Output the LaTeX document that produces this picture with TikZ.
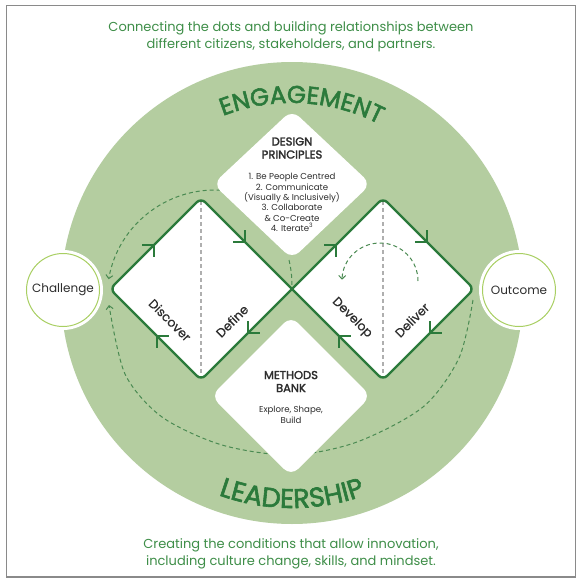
\documentclass[tikz,border=0pt]{standalone}
\usepackage{fontspec}
\setmainfont{Poppins}
\newfontfamily\pmedium{Poppins}[FakeBold=0.6]
\newfontfamily\psemi{Poppins}[FakeBold=2.2]
\newfontfamily\pcurve{Poppins}[FakeBold=2.2,LetterSpace=7]
\usetikzlibrary{arrows.meta,decorations.markings,decorations.text}
\definecolor{lgreen}{HTML}{B4CDA0}
\definecolor{dgreen}{HTML}{2B7A3B}
\definecolor{tgreen}{HTML}{3E8E48}
\definecolor{dashgreen}{HTML}{4A8A52}
\definecolor{lime}{HTML}{A8CF62}
\definecolor{ink}{HTML}{2D2D2D}
\definecolor{framegray}{HTML}{8A8A8A}
\definecolor{dashgray}{HTML}{AFAFAF}
\begin{document}
\begin{tikzpicture}[x=1pt,y=1pt,
  outline/.style={draw=dgreen, line width=2.4pt, line join=round, rounded corners=6pt},
  midline/.style={draw=dashgray, line width=1.2pt, dash pattern=on 4pt off 3pt},
  loopdash/.style={draw=dashgreen, line width=1pt, dash pattern=on 4pt off 3pt},
  tiparrow/.style={-{Straight Barb[length=3.5pt,width=7pt,line width=1pt]}},
  chevron/.style={decoration={markings, mark=at position 0.5 with {\arrow{Straight Barb[length=8.5pt,width=17pt,line width=2.1pt,color=dgreen]}}}, postaction={decorate}},
  caption/.style={text=tgreen, font=\fontsize{13}{17}\selectfont, align=center},
  dtitle/.style={text=ink, font=\psemi\fontsize{11.5}{13}\selectfont, align=center},
  ditems/.style={text=ink, font=\fontsize{8.6}{10.3}\selectfont, align=center},
  phase/.style={text=ink, font=\pmedium\fontsize{12.5}{14}\selectfont},
  endcirc/.style={circle, draw=lime, line width=1pt, fill=white, minimum size=73pt, inner sep=0pt, text=ink, font=\fontsize{12}{14}\selectfont},
  wdiamond/.style={fill=white, rounded corners=10pt}
]
\useasboundingbox (0,0) rectangle (582,-581);
\fill[white] (0,0) rectangle (582,-581);
% frame
\draw[framegray, line width=1.5pt] (6.5,-5.5) rectangle (575.5,-577);
% big circle
\coordinate (C) at (292,-293);
\fill[lgreen] (C) circle (231);
% captions
\node[caption] (topcap) at (291,-37) {Connecting the dots and building relationships between\\different citizens, stakeholders, and partners.};
\node[caption] (botcap) at (291,-553.5) {Creating the conditions that allow innovation,\\including culture change, skills, and mindset.};
% curved words
\path[decorate, decoration={text along path, text={|\pcurve\fontsize{24.5}{24.5}\selectfont|ENGAGEMENT}, text align=center, text color=dgreen}]
  (C) ++(128:190) arc[start angle=128, end angle=46, radius=190];
\path[decorate, decoration={text along path, text={|\pcurve\fontsize{27}{27}\selectfont|LEADERSHIP}, text align=center, text color=dgreen}]
  (C) ++(226:215) arc[start angle=226, end angle=314, radius=215];
% outer dashed loops
\draw[loopdash, tiparrow] (215,-298) ++(87:108) arc[start angle=87, end angle=170, radius=108];
\draw[loopdash, tiparrow] plot[smooth] coordinates {(473,-300) (459,-358) (423,-407) (357,-442) (291,-455) (222,-445) (162,-417) (125,-374) (109,-305)};
\draw[loopdash] (289,-260) to[bend left=6] (292,-286);
% end circles
\fill[white] (63,-290) circle (40);
\fill[white] (519,-290) circle (40);
\node[endcirc] (challenge) at (63,-290) {Challenge};
\node[endcirc] (outcome) at (519,-290) {Outcome};
% double diamond
\coordinate (L1) at (110,-289);
\coordinate (T1) at (201,-198);
\coordinate (X) at (292,-289);
\coordinate (B1) at (201,-380);
\coordinate (T2) at (383,-198);
\coordinate (R2) at (474,-289);
\coordinate (B2) at (383,-380);
\fill[white, rounded corners=6pt] (B1) -- (X) -- (T2) -- (R2) -- (B2) -- (X) -- (T1) -- (L1) -- cycle;
\draw[midline] (201,-201) -- (201,-377);
\draw[midline] (383,-201) -- (383,-377);
\draw[loopdash, tiparrow] (380,-281) ++(0:38) arc[start angle=0, end angle=178, radius=38];
\draw[outline] (B1) -- (X) -- (T2) -- (R2) -- (B2) -- (X) -- (T1) -- (L1) -- cycle;
\path[chevron] (L1) -- (T1);
\path[chevron] (T1) -- (X);
\path[chevron] (X) -- (B1);
\path[chevron] (B1) -- (L1);
\path[chevron] (X) -- (T2);
\path[chevron] (T2) -- (R2);
\path[chevron] (R2) -- (B2);
\path[chevron] (B2) -- (X);
% design principles / methods bank
\fill[wdiamond] (213,-184) -- (292,-110) -- (371,-184) -- (292,-259) -- cycle;
\fill[wdiamond] (211,-396) -- (291,-316) -- (371,-396) -- (291,-476) -- cycle;
\node[dtitle] (dptitle) at (292,-148) {DESIGN\\PRINCIPLES};
\node[ditems] (dpitems) at (292,-202.5) {1. Be People Centred\\2. Communicate\\(Visually \& Inclusively)\\3. Collaborate\\\& Co-Create\\4. Iterate\textsuperscript{3}};
\node[dtitle] (mbtitle) at (291,-381.5) {METHODS\\BANK};
\node[ditems] (mbitems) at (291,-415) {Explore, Shape,\\Build};
% phase labels
\node[phase, rotate=-45] (discover) at (170,-320) {Discover};
\node[phase, rotate=45] (define) at (232,-321) {Define};
\node[phase, rotate=-45] (develop) at (352,-318) {Develop};
\node[phase, rotate=45] (deliver) at (412,-320) {Deliver};
\end{tikzpicture}
\end{document}
